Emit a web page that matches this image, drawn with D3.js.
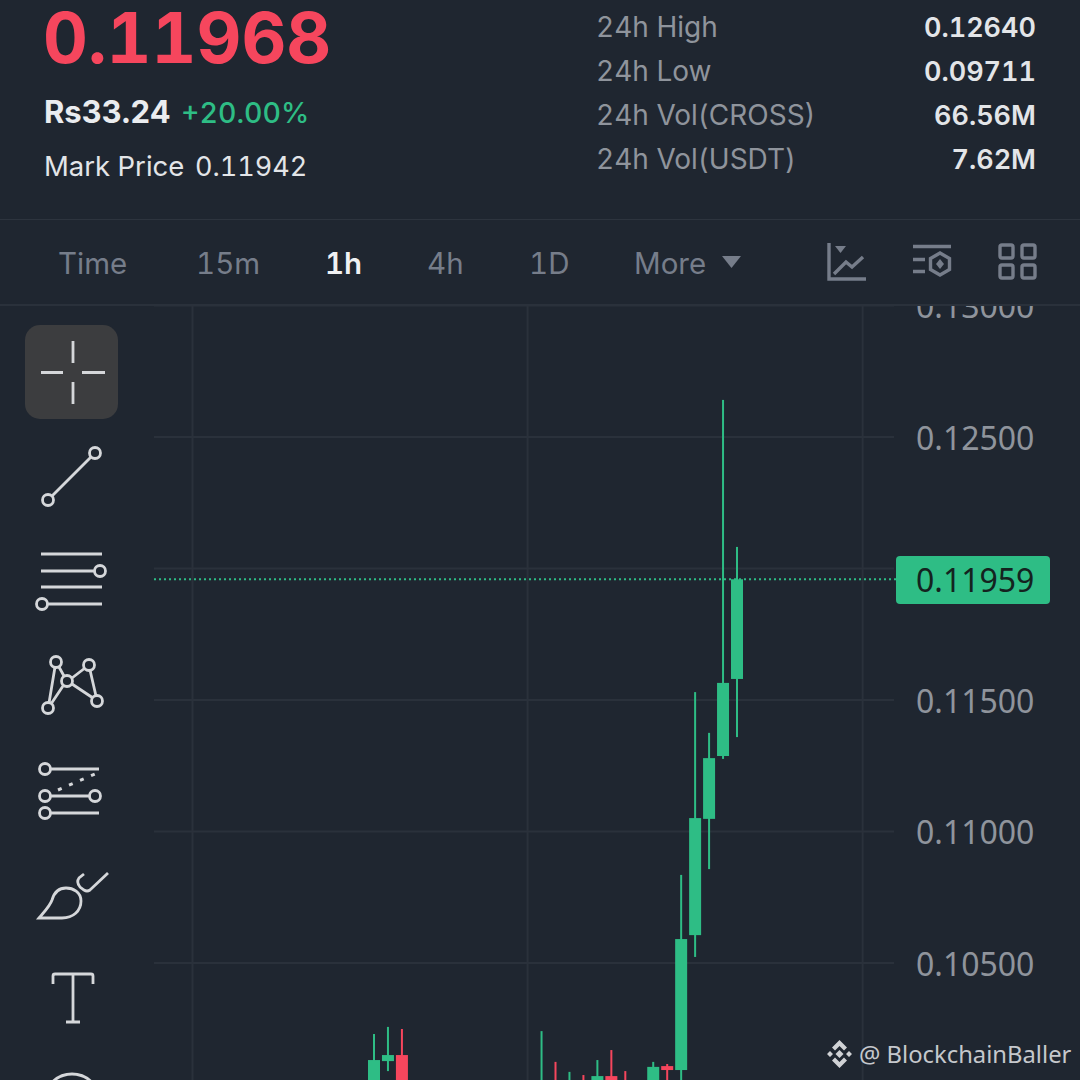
<!DOCTYPE html>
<html>
<head>
<meta charset="utf-8">
<script src="https://cdn.jsdelivr.net/npm/d3@7"></script>
<style>
html, body { margin: 0; padding: 0; background: #1f2630; overflow: hidden; }
text { font-family: Inter, "Noto Sans", sans-serif; font-variant-numeric: tabular-nums; font-feature-settings: "tnum" 1; }
.axis text { font-family: "Noto Sans", sans-serif; }
</style>
</head>
<body>
<div id="chart"></div>
<script>
// candles, one slot per hour
const slots = [0, 1, 2, 12, 13, 14, 15, 16, 17, 18, 20, 21, 22, 23, 24, 25, 26];
const opens = [0.1000, 0.10127, 0.10150, 0.1000, 0.1003, 0.1000, 0.1003, 0.1000, 0.10070, 0.1003, 0.1000, 0.10108, 0.10093, 0.10606, 0.11048, 0.11287, 0.11580];
const highs = [0.1023, 0.10257, 0.10249, 0.10241, 0.10124, 0.10086, 0.10074, 0.10131, 0.10169, 0.10089, 0.10124, 0.10116, 0.10835, 0.11530, 0.11375, 0.12641, 0.12082];
const lows = [0.0995, 0.10089, 0.0995, 0.0995, 0.0995, 0.0995, 0.0995, 0.0995, 0.0995, 0.0995, 0.0995, 0.0995, 0.0995, 0.10523, 0.10857, 0.11276, 0.11359];
const closes = [0.10131, 0.10150, 0.1000, 0.1003, 0.1000, 0.1003, 0.1000, 0.10070, 0.1000, 0.1000, 0.10105, 0.10093, 0.10591, 0.11051, 0.11279, 0.11565, 0.11959];

const priceTicks = [0.13, 0.125, 0.12, 0.115, 0.11, 0.105];
const priceLabels = ['0.13000', '0.12500', '', '0.11500', '0.11000', '0.10500'];
const gridSlots = [-13, 11, 35];
const lastPrice = 0.11959;

const statNames = ['24h High', '24h Low', '24h Vol(CROSS)', '24h Vol(USDT)'];
const statValues = ['0.12640', '0.09711', '66.56M', '7.62M'];
const tabNames = ['Time', '15m', '1h', '4h', '1D', 'More'];

const green = '#2ebd85', red = '#f6465d', gridColor = '#2a313b', bg = '#1f2630';
const iconLight = '#d5d7da', iconGrey = '#767d8a';

const svg = d3.select('#chart').append('svg').attr('width', 1080).attr('height', 1080);
svg.append('rect').attr('width', 1080).attr('height', 1080).attr('fill', bg);

const x = d3.scaleLinear().domain([0, 26]).range([374, 737]);
const y = d3.scaleLinear().domain([0.125, 0.105]).range([437, 963]);

const defs = svg.append('defs');
defs.append('clipPath').attr('id', 'plot').append('rect').attr('x', 0).attr('y', 306).attr('width', 1080).attr('height', 774);

const plot = svg.append('g').attr('clip-path', 'url(#plot)');

// grid
plot.selectAll('.vgrid').data(gridSlots).enter().append('line')
    .attr('x1', d => x(d)).attr('x2', d => x(d))
    .attr('y1', 306).attr('y2', 1080)
    .attr('stroke', gridColor).attr('stroke-width', 2);

plot.selectAll('.hgrid').data(priceTicks).enter().append('line')
    .attr('x1', 154).attr('x2', 894)
    .attr('y1', d => y(d)).attr('y2', d => y(d))
    .attr('stroke', gridColor).attr('stroke-width', 2);

// price axis
const yAxis = d3.axisRight(y)
    .tickValues(priceTicks)
    .tickSize(0)
    .tickPadding(0)
    .tickFormat((d, i) => priceLabels[i]);

plot.append('g').attr('class', 'axis')
    .attr('transform', 'translate(916,2)')
    .call(yAxis)
    .call(g => g.select('.domain').remove())
    .selectAll('text')
    .attr('fill', '#8f949c')
    .style('font-size', '32px');

// candles
const candles = plot.selectAll('.candle').data(slots).enter().append('g').attr('class', 'candle');
const candleColor = i => closes[i] >= opens[i] ? green : red;

candles.append('rect')
    .attr('x', d => x(d) - 1)
    .attr('width', 2)
    .attr('y', (d, i) => y(highs[i]))
    .attr('height', (d, i) => y(lows[i]) - y(highs[i]))
    .attr('fill', (d, i) => candleColor(i));

candles.append('rect')
    .attr('x', d => x(d) - 6)
    .attr('width', 12)
    .attr('y', (d, i) => y(Math.max(opens[i], closes[i])))
    .attr('height', (d, i) => Math.abs(y(opens[i]) - y(closes[i])))
    .attr('fill', (d, i) => candleColor(i));

// last price line and tag
plot.append('line')
    .attr('x1', 154).attr('x2', 896)
    .attr('y1', y(lastPrice)).attr('y2', y(lastPrice))
    .attr('stroke', green).attr('stroke-width', 2).attr('stroke-dasharray', '2 3');

svg.append('rect').attr('x', 896).attr('y', 556).attr('width', 154).attr('height', 48).attr('rx', 4).attr('fill', green);
svg.append('text').attr('x', 916).attr('y', 592).attr('font-size', 32)
    .style('font-family', '"Noto Sans", sans-serif').attr('fill', '#14231f').text(lastPrice.toFixed(5));

// header
const label = (tx, ty, s, size, fill, weight, anchor) => svg.append('text')
    .attr('x', tx).attr('y', ty).attr('font-size', size).attr('fill', fill)
    .attr('font-weight', weight || 400).attr('text-anchor', anchor || 'start').text(s);

label(43, 63, '0.11968', 69.5, red, 700);
label(44, 123, 'Rs33.24', 31, '#eaecef', 700);
label(181, 123, '+20.00%', 28.5, green, 500);
label(44, 176, 'Mark Price', 27.5, '#e3e5e8');
label(195, 176, '0.11942', 27, '#e3e5e8');

statNames.forEach((s, i) => {
    label(596, 37 + i * 44, s, 28, '#8f949c');
    label(1036, 37 + i * 44, statValues[i], 27, '#e3e5e8', 600, 'end');
});

svg.append('rect').attr('x', 0).attr('y', 219).attr('width', 1080).attr('height', 1).attr('fill', '#2d343e');
svg.append('rect').attr('x', 0).attr('y', 304).attr('width', 1080).attr('height', 2).attr('fill', '#2a313b');

const tabX = [58, 196, 325, 427, 529, 634];
tabNames.forEach((s, i) => {
    const on = s === '1h';
    label(tabX[i], 274, s, 29.5, on ? '#f0f1f3' : '#767d8a', on ? 600 : 400);
});
svg.append('path').attr('d', 'M722,256H741L731.5,268Z').attr('fill', '#767d8a');

// toolbar icons
const icons = svg.append('g').attr('fill', 'none').attr('stroke', iconLight).attr('stroke-width', 2.8);
const ring = (g, cx, cy, r) => g.append('circle').attr('cx', cx).attr('cy', cy).attr('r', r || 5.5);
const stroke = (g, d) => g.append('path').attr('d', d);

icons.append('rect').attr('x', 25).attr('y', 325).attr('width', 93).attr('height', 94).attr('rx', 15)
    .attr('fill', '#3c3d3f').attr('stroke', 'none');
stroke(icons, 'M73,341V363M73,382V404M41,372.5H63M82,372.5H105');

stroke(icons, 'M52,496L91,457');
ring(icons, 95, 453); ring(icons, 48, 500);

stroke(icons, 'M41,554H102M41,571H95M41,587H102M48,604H102');
ring(icons, 100, 571); ring(icons, 42, 604);

stroke(icons, 'M55,667L49,703M59,667L64,676M63,686L51,704M72,678L85,668M72,684L93,698M90,670L96,696');
[[56, 662], [89, 665], [67, 681], [97, 701], [48, 708]].forEach(p => ring(icons, p[0], p[1]));

stroke(icons, 'M51,769H99M51,796H89M51,813H99');
icons.append('path').attr('d', 'M58,790L95,774').attr('stroke-dasharray', '4 8').attr('stroke-width', 3);
ring(icons, 45, 769); ring(icons, 45, 796); ring(icons, 95, 796); ring(icons, 45, 813);

stroke(icons, 'M84,874L79,878Q76,882 80,887L84,890Q87,892 90,890L108,873');
stroke(icons, 'M39,918H62C73,918 81,911 81,901C81,892 73,888 66,888C58,888 54,893 52,900C50,906 45,911 39,918Z');

stroke(icons, 'M53,984V976Q53,974 55,974H91Q93,974 93,976V984M73,974V1022M66,1022H80');
ring(icons, 72, 1102, 28);

const tools = svg.append('g').attr('fill', 'none').attr('stroke', iconGrey).attr('stroke-width', 3.4);
stroke(tools, 'M829,243V279H866');
stroke(tools, 'M834,274L846,262L852,267L863,257');
tools.append('path').attr('d', 'M835,246H846L840.5,253Z').attr('fill', iconGrey).attr('stroke', 'none');
stroke(tools, 'M913,246.5H951M913,259.5H925M913,271.5H925');
stroke(tools, 'M940,253L949.5,258.5V269.5L940,275L930.5,269.5V258.5Z');
tools.append('path').attr('d', 'M940,259L944,264L940,269L936,264Z').attr('fill', iconGrey).attr('stroke', 'none');
[[1000, 245], [1022, 245], [1000, 265], [1022, 265]].forEach(p => {
    tools.append('rect').attr('x', p[0]).attr('y', p[1]).attr('width', 13).attr('height', 13).attr('rx', 2);
});

// watermark
svg.append('path')
    .attr('d', 'M839.5,1040L847,1047.5L844,1050.5L839.5,1046L835,1050.5L832,1047.5Z' +
        'M839.5,1068L847,1060.5L844,1057.5L839.5,1062L835,1057.5L832,1060.5Z' +
        'M839.5,1050L843.5,1054L839.5,1058L835.5,1054Z' +
        'M830,1051L833,1054L830,1057L827,1054Z M849,1051L852,1054L849,1057L846,1054Z')
    .attr('fill', '#d0d2d5');
svg.append('text').attr('x', 859).attr('y', 1063).attr('font-size', 23.8)
    .style('font-family', '"Noto Sans", sans-serif').attr('fill', '#c5c8cc').text('@ BlockchainBaller');
</script>
</body>
</html>
